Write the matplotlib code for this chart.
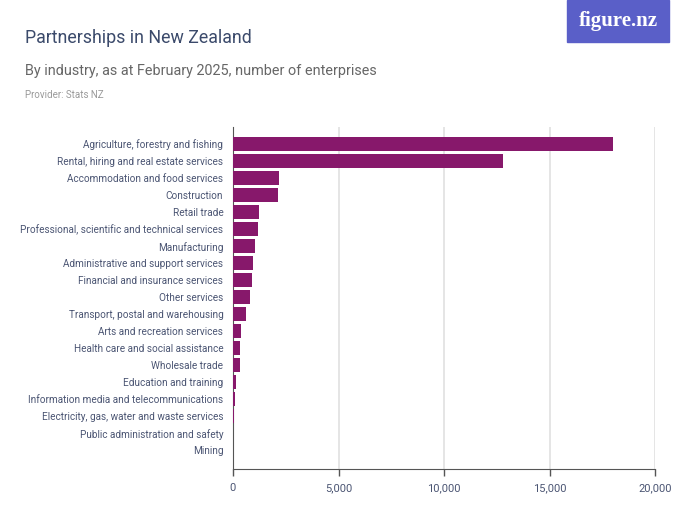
import matplotlib
matplotlib.use('Agg')
from matplotlib import pyplot as plt
from matplotlib.patches import Rectangle
from matplotlib.ticker import FuncFormatter

plt.rcParams['font.family'] = ['Roboto', 'DejaVu Sans']

industries = ['Agriculture, forestry and fishing',
              'Rental, hiring and real estate services',
              'Accommodation and food services',
              'Construction',
              'Retail trade',
              'Professional, scientific and technical services',
              'Manufacturing',
              'Administrative and support services',
              'Financial and insurance services',
              'Other services',
              'Transport, postal and warehousing',
              'Arts and recreation services',
              'Health care and social assistance',
              'Wholesale trade',
              'Education and training',
              'Information media and telecommunications',
              'Electricity, gas, water and waste services',
              'Public administration and safety',
              'Mining']
enterprises = [18010, 12800, 2180, 2150, 1230, 1200, 1050, 970, 890, 790,
               600, 360, 330, 320, 130, 80, 30, 20, 10]
ticks = [0, 5000, 10000, 15000, 20000]

bar_color = '#87186b'
label_color = '#4b5573'

fig = plt.figure(figsize=(7, 5.25), dpi=100)
ax = fig.add_axes([233/700, 1 - 469/525, 422/700, 342/525])

pos = list(range(len(industries)))
ax.barh(pos, enterprises, height=0.82, color=bar_color, zorder=3)
ax.set_ylim(19.1, -1.0)
ax.set_xlim(0, 20000)
ax.set_yticks(pos)
ax.set_yticklabels(industries, fontsize=7.2, color=label_color)
ax.set_xticks(ticks)
ax.xaxis.set_major_formatter(FuncFormatter(lambda v, p: f'{int(v):,}'))
ax.tick_params(axis='x', colors='#555555', labelcolor=label_color, labelsize=8,
               length=5, width=1, pad=5)
ax.tick_params(axis='y', length=0, pad=7)
ax.grid(axis='x', color='#e0e0e0', linewidth=1.2, zorder=0)
for s in ['top', 'right']:
    ax.spines[s].set_visible(False)
ax.spines['left'].set_color('#555555')
ax.spines['bottom'].set_color('#555555')

fig.text(25/700, 1 - 43/525, 'Partnerships in New Zealand', fontsize=12.8,
         color='#3b4a6b', va='baseline')
fig.text(25/700, 1 - 75/525, 'By industry, as at February 2025, number of enterprises',
         fontsize=10.4, color='#666666', va='baseline')
fig.text(25/700, 1 - 98/525, 'Provider: Stats NZ', fontsize=7, color='#9a9a9a',
         va='baseline')

# logo box
fig.patches.append(Rectangle((567/700, 1 - 42/525), 102/700, 42/525,
                             transform=fig.transFigure, color='#5a5fc8'))
fig.text(618/700, 1 - 21/525, 'figure.nz', fontsize=15, color='white',
         ha='center', va='center', family=['Liberation Serif', 'DejaVu Serif'],
         weight='bold')

fig.savefig('out.png', dpi=100)
